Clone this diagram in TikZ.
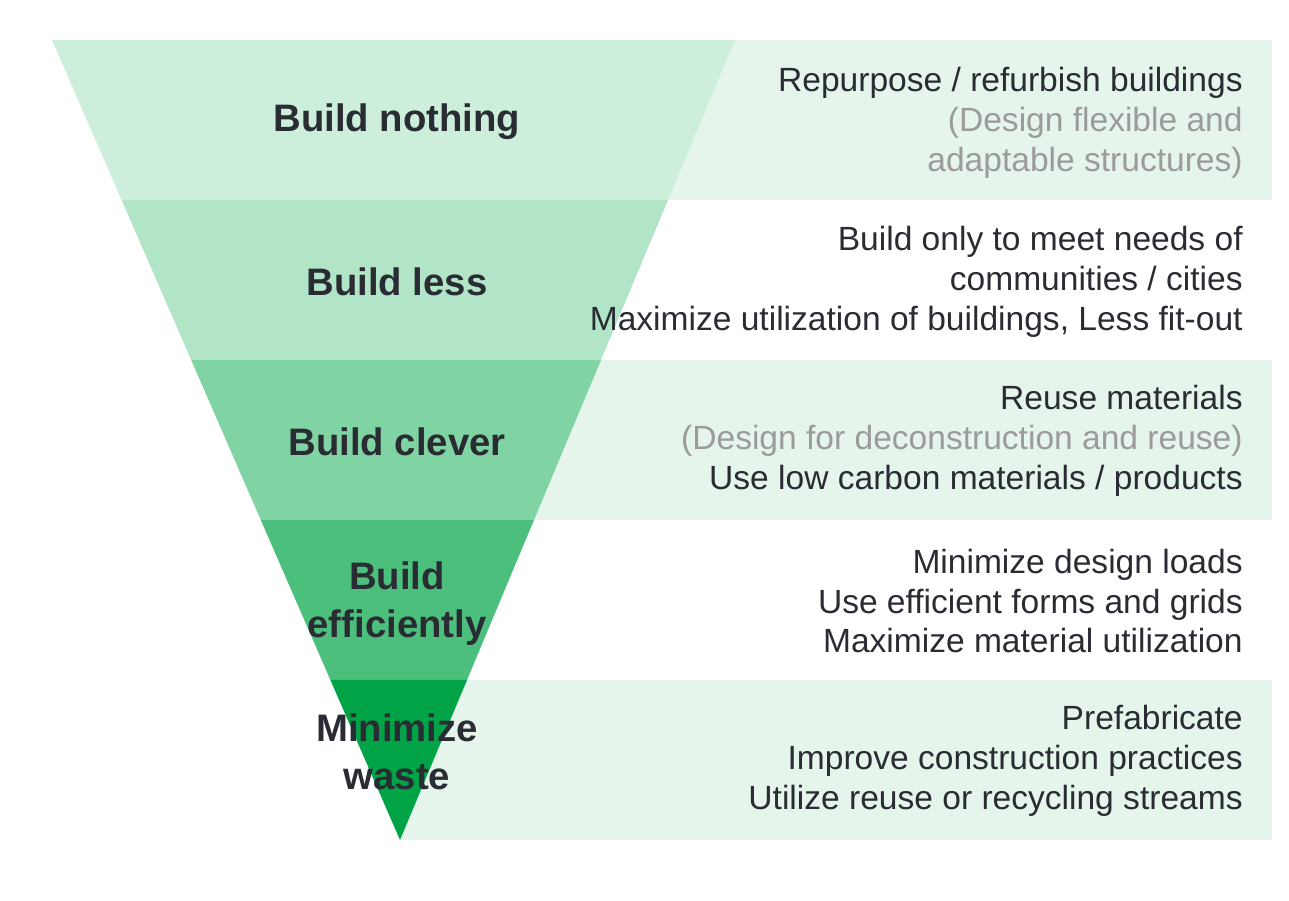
\documentclass[tikz,border=0pt]{standalone}
\usepackage{fontspec}
\setmainfont{Liberation Sans}
\usetikzlibrary{calc}
\definecolor{lvA}{HTML}{CDEEDB}
\definecolor{lvB}{HTML}{B2E5C8}
\definecolor{lvC}{HTML}{80D3A2}
\definecolor{lvD}{HTML}{4DBF7D}
\definecolor{lvE}{HTML}{00A346}
\definecolor{rowbg}{HTML}{E5F5EC}
\definecolor{txtdark}{HTML}{2A2C33}
\definecolor{txtgray}{HTML}{9B9B9B}
\tikzset{
  level/.style={text=txtdark, font=\fontsize{21.8}{27.3}\selectfont\bfseries, align=center, inner sep=0pt},
  hint/.style={text=txtdark, font=\fontsize{19.1}{22.76}\selectfont, align=right, anchor=east, inner sep=0pt}
}
\begin{document}
\begin{tikzpicture}[x=0.02cm, y=-0.02cm]
  \useasboundingbox (0,0) rectangle (1289,900);
  % 右侧浅色条带（第 1、3、5 行）
  \fill[rowbg] (400,40)  rectangle (1272,200);
  \fill[rowbg] (400,360) rectangle (1272,520);
  \fill[rowbg] (400,680) rectangle (1272,840);
  % 倒三角：左上、右上、顶点
  \coordinate (TL) at (52,40);
  \coordinate (TR) at (735,40);
  \coordinate (Apex) at (400,840);
  % 五层，按 1/5 切分
  \foreach \i/\c in {0/lvA, 1/lvB, 2/lvC, 3/lvD, 4/lvE} {
    \pgfmathsetmacro{\ta}{\i/5}
    \pgfmathsetmacro{\tb}{(\i+1)/5}
    \fill[\c] ($(TL)!\ta!(Apex)$) -- ($(TR)!\ta!(Apex)$)
      -- ($(TR)!\tb!(Apex)$) -- ($(TL)!\tb!(Apex)$) -- cycle;
  }
  % 左侧层名
  \node[level] (L1) at (397,122) {Build nothing};
  \node[level] (L2) at (397,282) {Build less};
  \node[level] (L3) at (397,442) {Build clever};
  \node[level] (L4) at (397,604) {Build\\efficiently};
  \node[level] (L5) at (397,752) {Minimize\\waste};
  % 右侧说明
  \node[hint] (R1) at (1243,123) {Repurpose / refurbish buildings\\
    \textcolor{txtgray}{(Design flexible and}\\\textcolor{txtgray}{adaptable structures)}};
  \node[hint] (R2) at (1243,282) {Build only to meet needs of\\communities / cities\\
    Maximize utilization of buildings, Less fit-out};
  \node[hint] (R3) at (1243,441) {Reuse materials\\
    \textcolor{txtgray}{(Design for deconstruction and reuse)}\\
    Use low carbon materials / products};
  \node[hint] (R4) at (1243,601) {Minimize design loads\\Use efficient forms and grids\\
    Maximize material utilization};
  \node[hint] (R5) at (1243,761) {Prefabricate\\Improve construction practices\\
    Utilize reuse or recycling streams};
\end{tikzpicture}
\end{document}
